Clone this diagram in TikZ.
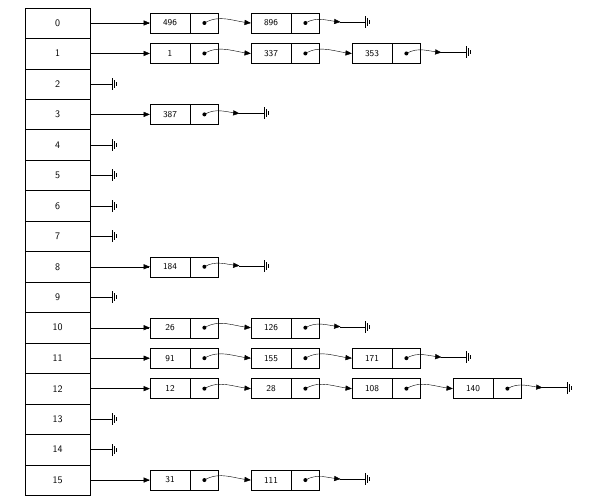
\documentclass[tikz,border=0pt]{standalone}
\usetikzlibrary{arrows,positioning}
\newcommand{\gnd}[1]{%
  \draw (#1) -- ++(0,-6) (#1) -- ++(0,6);
  \draw ([xshift=2pt]#1) -- ++(0,-4) ([xshift=2pt]#1) -- ++(0,4);
  \draw ([xshift=4pt]#1) -- ++(0,-2) ([xshift=4pt]#1) -- ++(0,2);}
\begin{document}
\begin{tikzpicture}[x=1pt,y=-1pt,>=triangle 45,font=\sffamily\small,
  slot/.style={draw,minimum width=65pt,minimum height=30.47pt,inner sep=0pt,font=\sffamily},
  val/.style={draw,minimum width=40pt,minimum height=20pt,inner sep=0pt},
  ptr/.style={draw,minimum width=28pt,minimum height=20pt,inner sep=0pt}]
\useasboundingbox (0,0) rectangle (600,500);
% hash table slots
\foreach \i in {0,...,15}
  \node[slot] (s\i) at (57.5,{23+30.47*\i}) {\i};
% chains: row/keys
\foreach \r/\keys in {0/{496,896},1/{1,337,353},2/{},3/{387},4/{},5/{},6/{},7/{},
    8/{184},9/{},10/{26,126},11/{91,155,171},12/{12,28,108,140},13/{},14/{},15/{31,111}}{
  \coordinate (last) at (s\r.east);
  \def\prev{}
  \foreach \k [count=\j] in \keys {
    \node[val] (v\r-\j) at ({170+101*(\j-1)},{23+30.47*\r}) {\k};
    \node[ptr,right=0pt of v\r-\j] (p\r-\j) {};
    \fill (p\r-\j.center) circle (2pt);
    \ifnum\j=1
      \draw[->] (s\r.east) -- (v\r-\j.west);
    \else
      \pgfmathtruncatemacro{\pj}{\j-1}
      \draw[->] (p\r-\pj.center) to[out=30,in=175] (v\r-\j.west);
    \fi
    \xdef\nlast{\j}
  }
  \ifx\keys\empty
    \coordinate (g\r) at ([xshift=22pt]s\r.east);
    \draw (s\r.east) -- (g\r);
    \gnd{g\r}
  \else
    \foreach \k [count=\j] in \keys {\xdef\nlast{\j}}
    \coordinate (g\r) at ([xshift=60pt]p\r-\nlast.center);
    \coordinate (h\r) at ([xshift=35pt,yshift=1pt]p\r-\nlast.center);
    \draw[->] (p\r-\nlast.center) to[out=30,in=175] (h\r);
    \draw (h\r) -- (g\r |- h\r);
    \gnd{g\r |- h\r}
  \fi
}
\end{tikzpicture}
\end{document}
